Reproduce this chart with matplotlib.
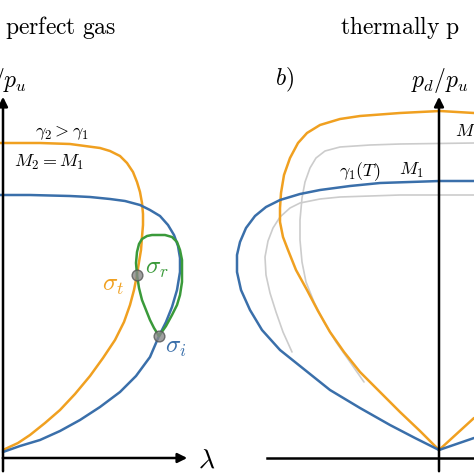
import numpy as np
import matplotlib.pyplot as plt

plt.rcParams['mathtext.fontset'] = 'cm'

ORANGE = '#f0a020'
BLUE = '#3a6faa'
GREEN = '#3a9a3a'
GRAY = '#cccccc'

# curves, in pixel coordinates (x right, y down)
orange_a = [(3, 450), (18, 443), (30, 435), (45, 423), (60, 410), (75, 394), (90, 376),
            (103, 358), (115, 340), (124, 322), (130, 305), (134, 290), (137, 275), (139, 262),
            (141, 250), (142, 237), (143, 225), (143, 214), (142, 203), (140, 192), (137, 182),
            (133, 172), (127, 163), (120, 156), (110, 151), (100, 148), (85, 146), (70, 144),
            (40, 143), (0, 143)]
blue_a = [(3, 452), (20, 446), (40, 440), (60, 431), (80, 420), (100, 407), (120, 392),
          (136, 376), (150, 357), (159, 336), (166, 322), (172, 307), (177, 290), (180, 272),
          (180, 258), (178, 246), (174, 235), (168, 225), (160, 216), (150, 210), (140, 205),
          (125, 201), (110, 199), (90, 197), (70, 196), (30, 195), (0, 195)]
green_a = [(159, 336), (154, 328), (150, 320), (146, 310), (142, 300), (139, 288), (137, 275),
           (136, 263), (137, 252), (139, 244), (142, 239), (147, 236), (152, 235), (165, 235),
           (172, 237), (177, 242), (180, 250), (182, 260), (182, 270), (182, 282), (180, 295),
           (177, 305), (172, 315), (166, 326), (159, 336)]
points_a = [(137, 275), (159, 336)]

orange_b = [(439, 450), (420, 431), (400, 412), (380, 392), (360, 372), (344, 352), (330, 332),
            (318, 311), (307, 290), (296, 270), (288, 250), (283, 237), (280, 222), (280, 208),
            (281, 193), (284, 175), (290, 158), (298, 143), (307, 133), (320, 125), (340, 119),
            (360, 116), (400, 113), (440, 111), (474, 113)]
orange_b2 = [(439, 450), (474, 418)]
blue_b = [(439, 450), (415, 438), (390, 425), (360, 408), (330, 390), (305, 370), (280, 350),
          (262, 330), (250, 310), (241, 290), (237, 272), (237, 255), (240, 242), (246, 228),
          (255, 216), (266, 207), (280, 200), (300, 194), (320, 190), (350, 186), (380, 183),
          (440, 181), (474, 181)]
blue_b2 = [(439, 450), (474, 438)]
gray_b1 = [(292, 352), (283, 332), (276, 312), (270, 293), (266, 275), (265, 257), (268, 241),
           (273, 228), (280, 217), (290, 208), (300, 203), (320, 199), (340, 197),
           (400, 195), (474, 195)]
gray_b2 = [(364, 382), (350, 362), (336, 342), (324, 322), (314, 302), (306, 282), (302, 262),
           (300, 240), (300, 220), (302, 198), (305, 182), (310, 168), (316, 158), (325, 151),
           (340, 147), (370, 145), (400, 144), (474, 143)]

fig = plt.figure(figsize=(4.74, 4.74), dpi=100)
ax = fig.add_axes([0, 0, 1, 1])
ax.set_xlim(0, 474)
ax.set_ylim(474, 0)
ax.axis('off')

def line(pts, c, lw=1.8):
    p = np.array(pts)
    ax.plot(p[:, 0], p[:, 1], color=c, lw=lw, solid_capstyle='round', solid_joinstyle='round')

for pts, c, lw in [(gray_b1, GRAY, 1.2), (gray_b2, GRAY, 1.2),
                   (orange_a, ORANGE, 1.8), (blue_a, BLUE, 1.8), (green_a, GREEN, 1.8),
                   (orange_b, ORANGE, 1.8), (orange_b2, ORANGE, 1.8),
                   (blue_b, BLUE, 1.8), (blue_b2, BLUE, 1.8)]:
    line(pts, c, lw)

p = np.array(points_a)
ax.scatter(p[:, 0], p[:, 1], s=60, color='#888888', edgecolor='#555555', alpha=0.8, zorder=5)

# axes arrows
kw = dict(arrowprops=dict(arrowstyle='-|>', color='black', lw=1.8, mutation_scale=14))
ax.annotate('', xy=(3, 94), xytext=(3, 474), **kw)
ax.annotate('', xy=(190, 458), xytext=(0, 458), **kw)
ax.annotate('', xy=(439, 94), xytext=(439, 474), **kw)
ax.plot([267, 474], [458, 458], color='black', lw=1.8)

ax.text(5, 27, r'$\mathrm{perfect\ gas}$', fontsize=17, va='center')
ax.text(340, 27, r'$\mathrm{thermally\ p}$', fontsize=17, va='center')
ax.text(-8, 80, r'$/p_u$', fontsize=17, va='center')
ax.text(275, 80, r'$b)$', fontsize=17, va='center')
ax.text(411, 80, r'$p_d/p_u$', fontsize=17, va='center')
ax.text(198, 460, r'$\lambda$', fontsize=20, va='center')
ax.text(35, 133, r'$\gamma_2 > \gamma_1$', fontsize=13, va='center')
ax.text(14, 162, r'$M_2 = M_1$', fontsize=13, va='center')
ax.text(102, 285, r'$\sigma_t$', fontsize=18, va='center', color=ORANGE)
ax.text(145, 268, r'$\sigma_r$', fontsize=18, va='center', color=GREEN)
ax.text(165, 347, r'$\sigma_i$', fontsize=18, va='center', color=BLUE)
ax.text(339, 172, r'$\gamma_1(T)$', fontsize=13, va='center')
ax.text(399, 170, r'$M_1$', fontsize=13, va='center')
ax.text(455, 131, r'$M$', fontsize=13, va='center')

fig.savefig('out.png', dpi=100)
